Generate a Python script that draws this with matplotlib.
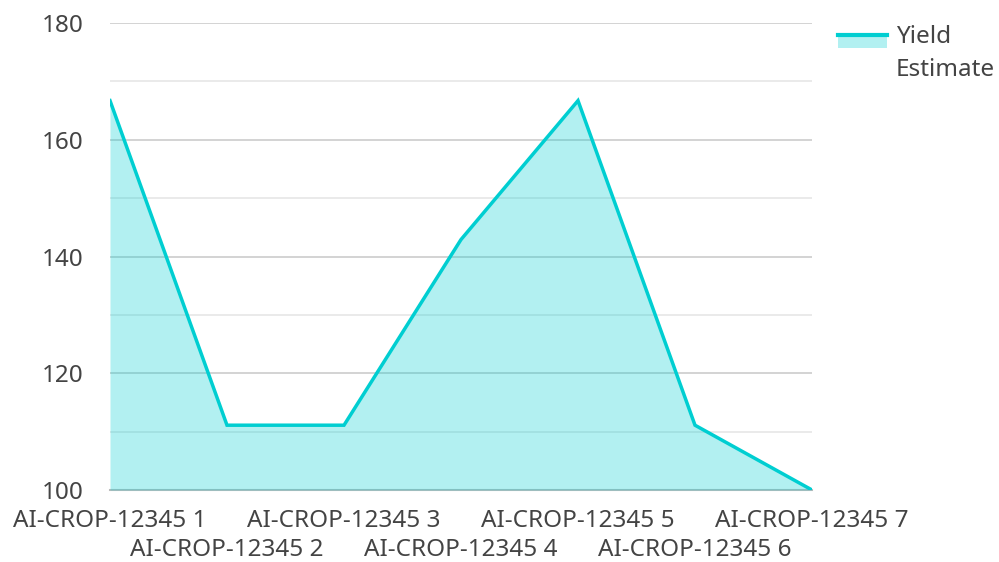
import matplotlib.pyplot as plt
from matplotlib.lines import Line2D
from matplotlib.patches import Rectangle
from matplotlib.ticker import MultipleLocator

# data
crops = ["AI-CROP-12345 1", "AI-CROP-12345 2", "AI-CROP-12345 3", "AI-CROP-12345 4",
         "AI-CROP-12345 5", "AI-CROP-12345 6", "AI-CROP-12345 7"]
yield_est = [166.7, 111.1, 111.1, 142.9, 166.7, 111.1, 100.0]

LINE = "#00CED1"
FILL = "#B2F0F1"
TXT = "#444444"
FS = 17.5

plt.rcParams['font.family'] = ['Noto Sans', 'DejaVu Sans']

fig = plt.figure(figsize=(9.99, 5.62), dpi=100)
ax = fig.add_axes([110 / 999, 1 - 490 / 562, 702 / 999, 467 / 562])

x = list(range(len(crops)))
ax.fill_between(x, yield_est, 100, color=LINE, alpha=0.3, linewidth=0, zorder=2)
ax.plot(x, yield_est, color=LINE, linewidth=2.5, zorder=3, solid_joinstyle='miter')

ax.set_xlim(0, len(crops) - 1)
ax.set_ylim(100, 180)
ax.yaxis.set_major_locator(MultipleLocator(20))
ax.yaxis.set_minor_locator(MultipleLocator(10))
ax.set_axisbelow(True)
ax.grid(which='major', axis='y', color='#cccccc', linewidth=1.2)
ax.grid(which='minor', axis='y', color='#e6e6e6', linewidth=1.2)
for s in ax.spines.values():
    s.set_visible(False)
ax.axhline(100, color='#bbbbbb', linewidth=1.5, zorder=1, clip_on=False)

ax.set_xticks(x)
ax.set_xticklabels(crops)
ax.tick_params(axis='both', length=0, labelsize=FS, labelcolor=TXT)
ax.tick_params(axis='y', which='minor', length=0)
ax.tick_params(axis='y', pad=19)
# stagger the x labels on two rows
for i, t in enumerate(ax.xaxis.get_major_ticks()):
    t.set_pad(14 if i % 2 == 0 else 34.5)

# legend
fig.patches.append(Rectangle((838 / 999, 1 - 48 / 562), 49 / 999, 14 / 562,
                             transform=fig.transFigure, color=FILL, linewidth=0))
fig.lines.append(Line2D([838 / 999, 887 / 999], [1 - 35 / 562, 1 - 35 / 562],
                        transform=fig.transFigure, color=LINE, linewidth=3))
fig.text(896 / 999, 1 - 37 / 562, "Yield", fontsize=FS, color=TXT, va='center')
fig.text(896 / 999, 1 - 70 / 562, "Estimate", fontsize=FS, color=TXT, va='center')

fig.savefig("out.png", dpi=100)
